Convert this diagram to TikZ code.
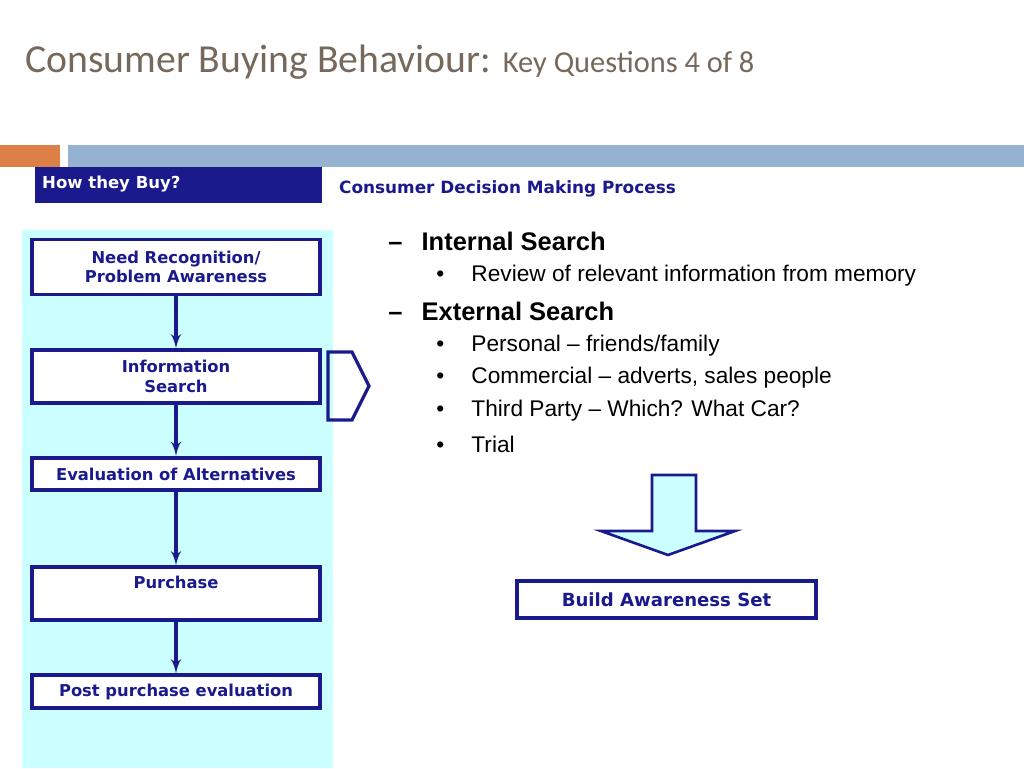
\documentclass[tikz,border=0pt]{standalone}
\usepackage{fontspec}
\setmainfont{Liberation Sans}
\newfontfamily\titlefont{Carlito}
\newfontfamily\boxfont{DejaVu Sans}
\usetikzlibrary{shapes, arrows, shapes.geometric, positioning}
\definecolor{navy}{HTML}{1A1A8C}
\definecolor{panel}{HTML}{CCFFFF}
\definecolor{titlegray}{HTML}{76685A}
\definecolor{barblue}{HTML}{95B3D0}
\definecolor{barorange}{HTML}{DD8047}
\tikzstyle{step box} = [
rectangle,
draw=navy,
line width=2.2pt,
fill=white,
minimum width=5.75cm,
inner sep=0pt,
font=\boxfont\bfseries\fontsize{9.3}{11}\selectfont,
text=navy,
align=center
]
\tikzstyle{bullet} = [anchor=west, font=\fontsize{12.9}{15}\selectfont, inner sep=0pt]
\tikzstyle{heading} = [anchor=west, font=\bfseries\fontsize{14.5}{17}\selectfont, inner sep=0pt]
\tikzstyle{arrow} = [draw=navy, line width=1.8pt, -latex']
\begin{document}
\begin{tikzpicture}[x=0.02cm, y=-0.02cm]
  \useasboundingbox (0,0) rectangle (1024,768);
  % Title and bars
  \node [anchor=base west, inner sep=0pt, text=titlegray] (title) at (25,72)
    {\titlefont\fontsize{22.6}{26}\selectfont Consumer Buying Behaviour: {\fontsize{17.3}{20}\selectfont Key Questions 4 of 8}};
  \fill [barorange] (0,145) rectangle (60,167);
  \fill [barblue] (68,145) rectangle (1024,167);
  \fill [navy] (35,167) rectangle (322,203);
  \node [anchor=west, text=white, font=\boxfont\bfseries\fontsize{9.4}{11}\selectfont] (how) at (36,184) {How they Buy?};
  \node [anchor=west, text=navy, font=\boxfont\bfseries\fontsize{9.6}{11}\selectfont] (process) at (333,189) {Consumer Decision Making Process};
  \fill [panel] (22,230) rectangle (333,768);

  % Place nodes
  \node [step box, minimum height=1.1cm] (need) at (176,267) {Need Recognition/\\Problem Awareness};
  \node [step box, minimum height=1.05cm] (info) at (176,376.5) {Information\\Search};
  \node [step box, minimum height=0.65cm] (eval) at (176,474) {Evaluation of Alternatives};
  \node [step box, minimum height=1.05cm] (purchase) at (176,593.5) {};
  \node [anchor=north, text=navy, font=\boxfont\bfseries\fontsize{9.3}{11}\selectfont] (purchaselabel) at (176,570) {Purchase};
  \node [step box, minimum height=0.65cm] (post) at (176,691.5) {Post purchase evaluation};

  % Pointer
  \draw [navy, line width=1.8pt] (328,352) -- (352,352) -- (369,386) -- (352,420) -- (328,420) -- cycle;

  % Bullet text
  \node [heading] (internal) at (388,241) {–\hspace{0.75em}Internal Search};
  \node [bullet] (b1) at (436,276) {•\hspace{1.2em}Review of relevant information from memory};
  \node [heading] (external) at (388,311) {–\hspace{0.75em}External Search};
  \node [bullet] (b2) at (436,346) {•\hspace{1.2em}Personal – friends/family};
  \node [bullet] (b3) at (436,378) {•\hspace{1.2em}Commercial – adverts, sales people};
  \node [bullet] (b4) at (436,411) {•\hspace{1.2em}Third Party – Which? What Car?};
  \node [bullet] (b5) at (436,444) {•\hspace{1.2em}Trial};

  % Block arrow and result
  \draw [navy, fill=panel, line width=1.5pt] (652,475) -- (696,475) -- (696,531) -- (735,531)
    -- (668,555) -- (601,531) -- (652,531) -- cycle;
  \node [step box, line width=1.8pt, minimum width=5.98cm, minimum height=0.74cm,
         font=\boxfont\bfseries\fontsize{10.3}{12}\selectfont] (aware) at (666.5,599.5) {Build Awareness Set};

  % Draw edges
  \path [arrow] (need) -- (info);
  \path [arrow] (info) -- (eval);
  \path [arrow] (eval) -- (purchase);
  \path [arrow] (purchase) -- (post);
\end{tikzpicture}
\end{document}
